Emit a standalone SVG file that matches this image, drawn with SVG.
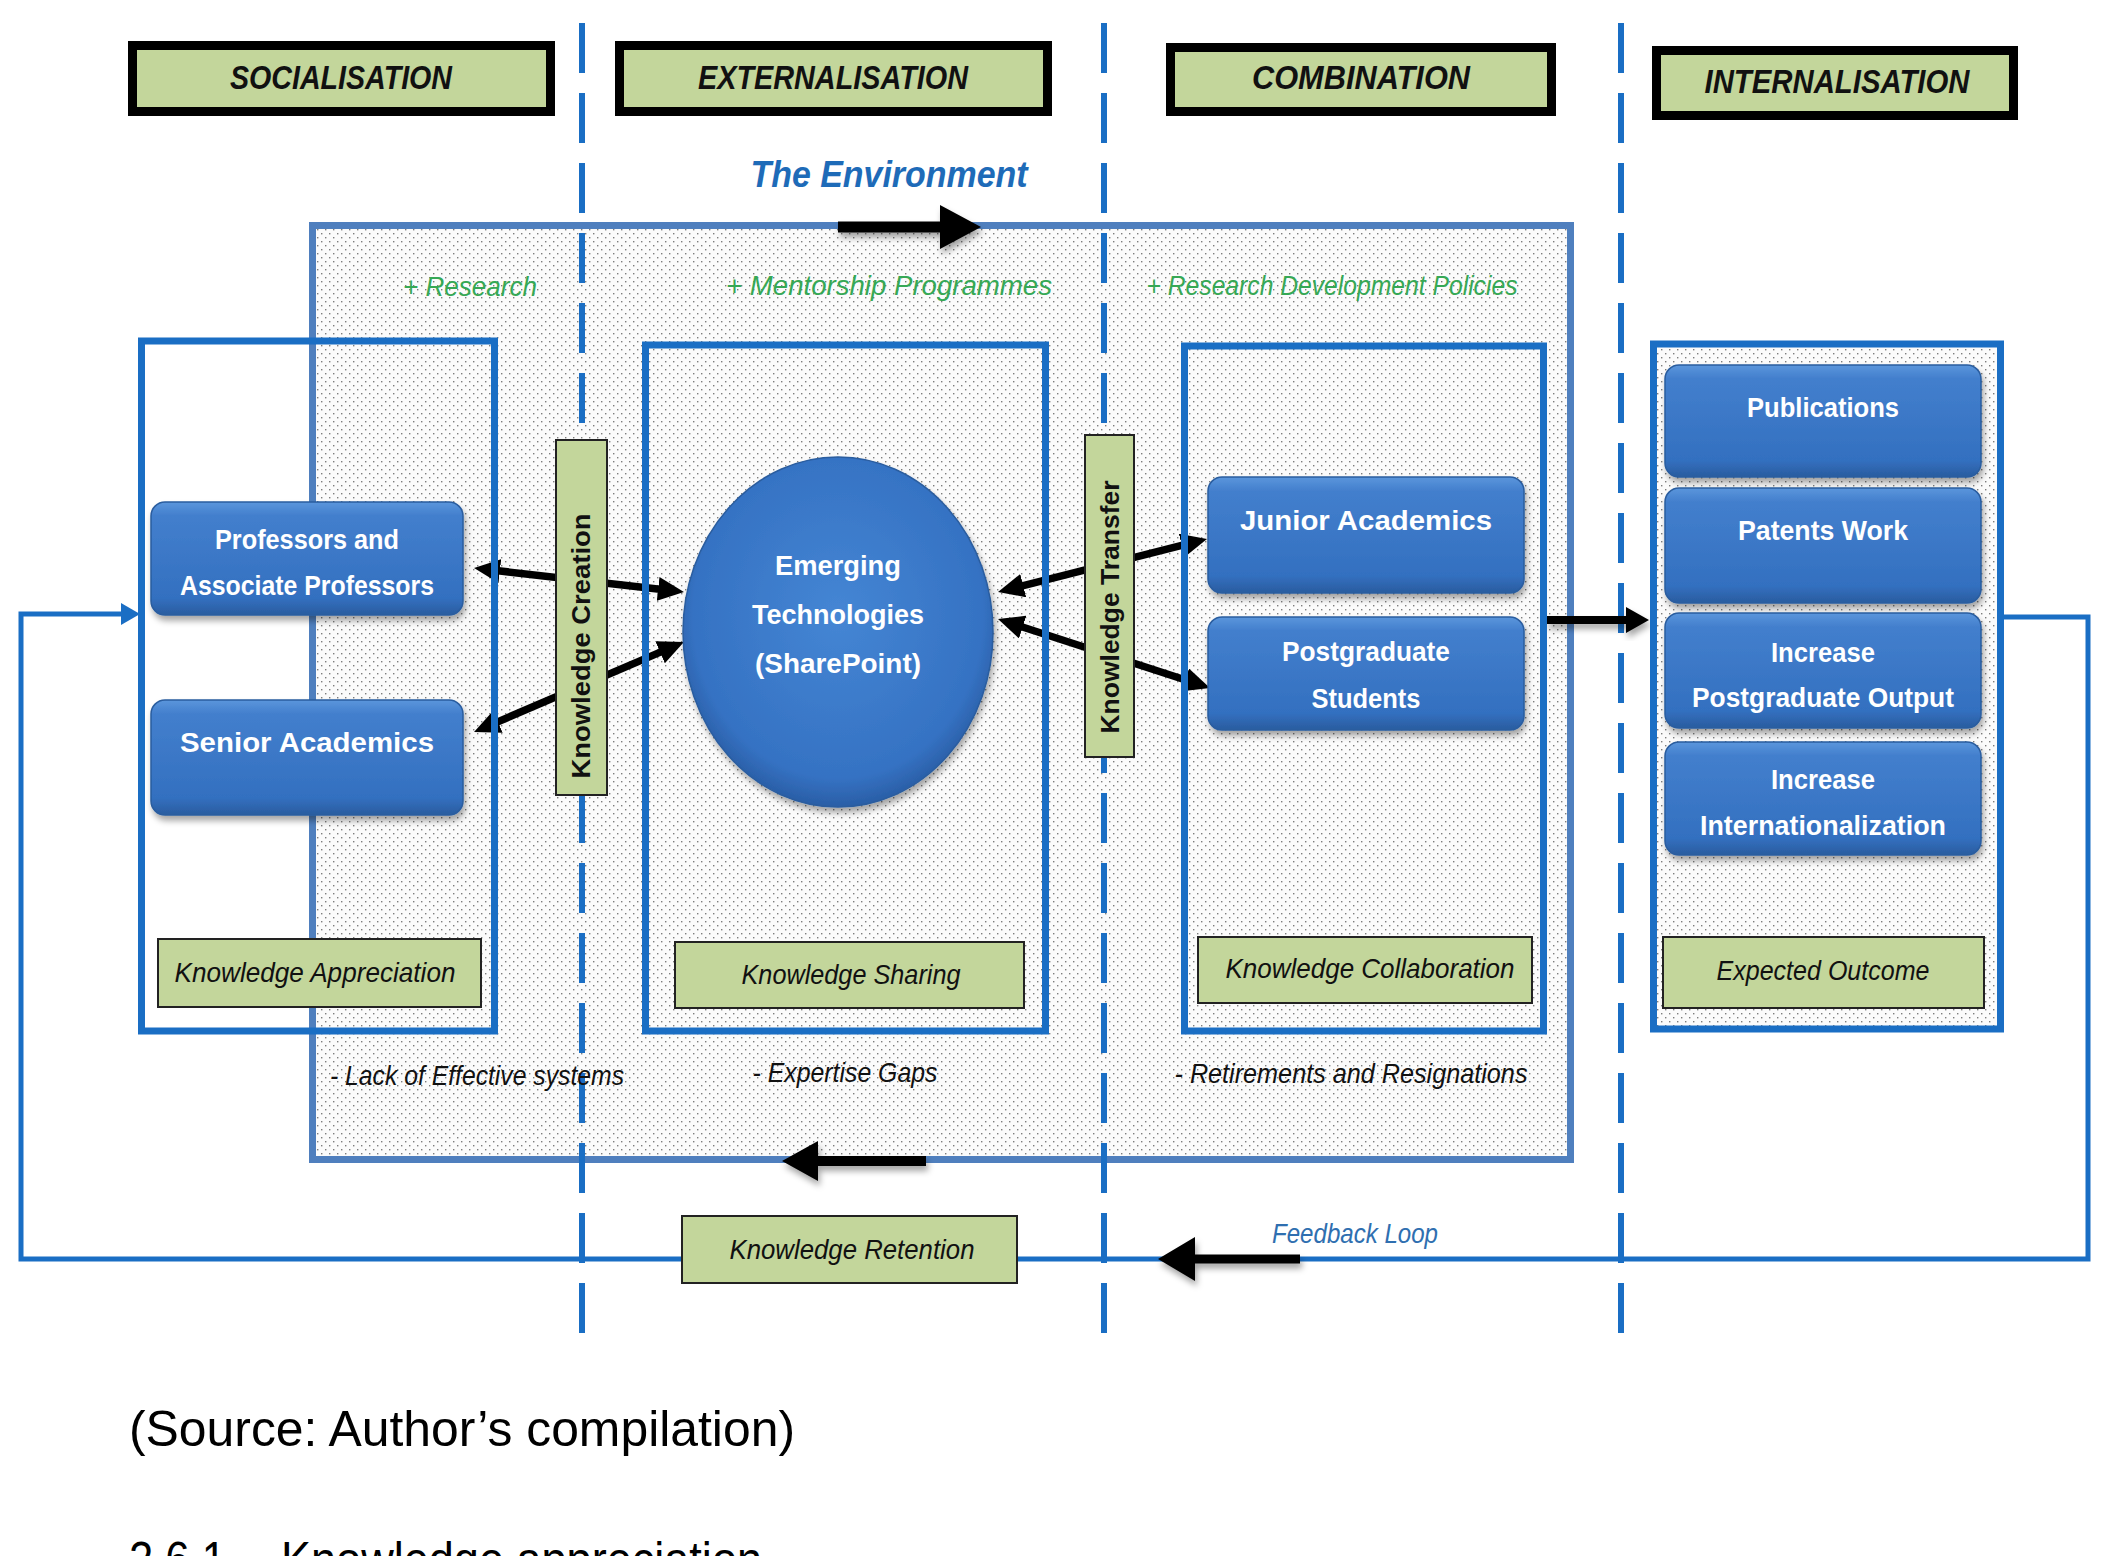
<svg xmlns="http://www.w3.org/2000/svg" width="2104" height="1556" viewBox="0 0 2104 1556">
<style>
.hdr{fill:#c3d69b;stroke:#000;stroke-width:9}
.hdrt{font-family:"Liberation Sans",Arial,sans-serif;font-size:33px;font-weight:bold;font-style:italic;fill:#111;text-anchor:middle}
.box{fill:none;stroke:#1a6ec4;stroke-width:7}
.node{fill:url(#nodeGrad);stroke:#2a5d9f;stroke-width:1.5;filter:url(#shadow)}
.nt{font-family:"Liberation Sans",Arial,sans-serif;font-size:28px;font-weight:bold;fill:#fff;text-anchor:middle}
.lbl{fill:#c3d69b;stroke:#222;stroke-width:2}
.lt{font-family:"Liberation Sans",Arial,sans-serif;font-size:28px;font-style:italic;fill:#111;text-anchor:middle}
.vt{font-family:"Liberation Sans",Arial,sans-serif;font-size:25px;font-weight:bold;fill:#111;text-anchor:middle}
.gt{font-family:"Liberation Sans",Arial,sans-serif;font-size:27px;font-style:italic;fill:#36a855;text-anchor:middle}
.dash{stroke:#1a6ec4;stroke-width:6;stroke-dasharray:50 20;fill:none}
.conn{stroke:#000;stroke-width:7.5;fill:none;marker-start:url(#ah);marker-end:url(#ah)}
.blk{fill:#000;filter:url(#shadow)}
.cap{font-family:"Liberation Sans",Arial,sans-serif;font-size:50px;fill:#000}
</style>
<defs>
<pattern id="dots" width="8" height="8" patternUnits="userSpaceOnUse">
<rect width="8" height="8" fill="#fbfbfb"/>
<rect x="1" y="1" width="1.4" height="1.4" fill="#7d7d7d"/>
<rect x="5" y="5" width="1.4" height="1.4" fill="#7d7d7d"/>
</pattern>
<linearGradient id="nodeGrad" x1="0" y1="0" x2="0" y2="1">
<stop offset="0" stop-color="#5b96dc"/>
<stop offset="0.12" stop-color="#437fcd"/>
<stop offset="0.85" stop-color="#3370c0"/>
<stop offset="1" stop-color="#2a5c9f"/>
</linearGradient>
<radialGradient id="circGrad" cx="0.5" cy="0.45" r="0.55">
<stop offset="0" stop-color="#4586d4"/>
<stop offset="0.85" stop-color="#3572c3"/>
<stop offset="1" stop-color="#2a5ea6"/>
</radialGradient>
<filter id="shadow" x="-10%" y="-10%" width="130%" height="140%">
<feDropShadow dx="2" dy="5" stdDeviation="3" flood-color="#000" flood-opacity="0.35"/>
</filter>
<marker id="ah" markerUnits="userSpaceOnUse" markerWidth="30" markerHeight="24" viewBox="0 0 30 24" refX="6" refY="12" orient="auto-start-reverse">
<path d="M0,0 L26,12 L0,24 z" fill="#000"/>
</marker>
</defs>
<rect width="2104" height="1556" fill="#fff"/>

<g id="environment">
<rect x="312.5" y="225.5" width="1258" height="934" fill="url(#dots)" stroke="#4f7fbe" stroke-width="7"/>
<text x="889" y="187" font-family="Liberation Sans, Arial, sans-serif" font-size="36" font-weight="bold" font-style="italic" fill="#1e6bb8" text-anchor="middle" textLength="277" lengthAdjust="spacingAndGlyphs">The Environment</text>
<text class="gt" x="470" y="296" textLength="134" lengthAdjust="spacingAndGlyphs">+ Research</text>
<text class="gt" x="889" y="295" textLength="326" lengthAdjust="spacingAndGlyphs">+ Mentorship Programmes</text>
<text class="gt" x="1332" y="295" textLength="371" lengthAdjust="spacingAndGlyphs">+ Research Development Policies</text>
</g>

<g id="dividers">
<line class="dash" x1="582" y1="23" x2="582" y2="1336"/>
<line class="dash" x1="1104" y1="23" x2="1104" y2="1336"/>
<line class="dash" x1="1621" y1="23" x2="1621" y2="1336"/>
</g>

<g id="headers">
<g id="hdr-socialisation"><rect class="hdr" x="132.5" y="45.5" width="418" height="66"/><text class="hdrt" x="341" y="89" textLength="222" lengthAdjust="spacingAndGlyphs">SOCIALISATION</text></g>
<g id="hdr-externalisation"><rect class="hdr" x="619.5" y="45.5" width="428" height="66"/><text class="hdrt" x="833" y="89" textLength="270" lengthAdjust="spacingAndGlyphs">EXTERNALISATION</text></g>
<g id="hdr-combination"><rect class="hdr" x="1170.5" y="47.5" width="381" height="64"/><text class="hdrt" x="1361" y="89" textLength="218" lengthAdjust="spacingAndGlyphs">COMBINATION</text></g>
<g id="hdr-internalisation"><rect class="hdr" x="1656.5" y="50.5" width="357" height="65"/><text class="hdrt" x="1837" y="93" textLength="265" lengthAdjust="spacingAndGlyphs">INTERNALISATION</text></g>
</g>

<g id="connectors">
<path d="M2004,617 H2088 V1259 H21 V614 H124" fill="none" stroke="#1a6ec4" stroke-width="5"/>
<polygon points="121,603 140,614 121,625" fill="#1a6ec4"/>
<path class="blk" d="M838,221.5 H940 V205 L981,227 L940,249 V232.5 H838 Z"/>
<path class="blk" d="M926,1156 H818 V1141 L782,1161 L818,1181 V1166 H926 Z"/>
<path class="blk" d="M1300,1254.5 H1195 V1237 L1158,1259 L1195,1281 V1263.5 H1300 Z"/>
<path class="blk" d="M1547,616 H1626 V607 L1649,620 L1626,633 V624 H1547 Z"/>
<line class="conn" x1="493.9" y1="570.3" x2="664.1" y2="589.7"/>
<line class="conn" x1="492.4" y1="724.1" x2="665.6" y2="649.9"/>
<line class="conn" x1="1017.4" y1="587.1" x2="1187.6" y2="543.9"/>
<line class="conn" x1="1017" y1="625.2" x2="1191" y2="681.8"/>
</g>

<g id="socialisation">
<rect class="box" x="141.5" y="341" width="353" height="690"/>
<g id="professors"><rect class="node" x="151" y="502" width="312" height="113" rx="14"/><text class="nt" x="307" y="549" textLength="184" lengthAdjust="spacingAndGlyphs">Professors and</text><text class="nt" x="307" y="595" textLength="254" lengthAdjust="spacingAndGlyphs">Associate Professors</text></g>
<g id="senior"><rect class="node" x="151" y="700" width="312" height="115" rx="14"/><text class="nt" x="307" y="752" font-size="31" textLength="254" lengthAdjust="spacingAndGlyphs">Senior Academics</text></g>
<g id="knowledge-appreciation"><rect class="lbl" x="158" y="939" width="323" height="68"/><text class="lt" x="315" y="982" textLength="281" lengthAdjust="spacingAndGlyphs">Knowledge Appreciation</text></g>
</g>

<g id="knowledge-creation"><rect class="lbl" x="556" y="440" width="51" height="355"/><text class="vt" transform="translate(581,646) rotate(-90)" x="0" y="9" textLength="265" lengthAdjust="spacingAndGlyphs">Knowledge Creation</text></g>

<g id="externalisation">
<rect class="box" x="645.5" y="345" width="400" height="686"/>
<g id="emerging"><ellipse cx="838" cy="632" rx="155" ry="175" fill="url(#circGrad)" stroke="#2a5d9f" stroke-width="1.5" filter="url(#shadow)"/><text class="nt" x="838" y="575" textLength="126" lengthAdjust="spacingAndGlyphs">Emerging</text><text class="nt" x="838" y="624" textLength="172" lengthAdjust="spacingAndGlyphs">Technologies</text><text class="nt" x="838" y="673" textLength="166" lengthAdjust="spacingAndGlyphs">(SharePoint)</text></g>
<g id="knowledge-sharing"><rect class="lbl" x="675" y="942" width="349" height="66"/><text class="lt" x="851" y="984" font-style="normal" textLength="219" lengthAdjust="spacingAndGlyphs">Knowledge Sharing</text></g>
</g>

<g id="knowledge-transfer"><rect class="lbl" x="1085" y="435" width="49" height="322"/><text class="vt" transform="translate(1110,607) rotate(-90)" x="0" y="9" textLength="253" lengthAdjust="spacingAndGlyphs">Knowledge Transfer</text></g>

<g id="combination">
<rect class="box" x="1184.5" y="346" width="359" height="685"/>
<g id="junior"><rect class="node" x="1208" y="477" width="316" height="116" rx="14"/><text class="nt" x="1366" y="530" font-size="31" textLength="252" lengthAdjust="spacingAndGlyphs">Junior Academics</text></g>
<g id="postgraduate"><rect class="node" x="1208" y="617" width="316" height="113" rx="14"/><text class="nt" x="1366" y="661" textLength="168" lengthAdjust="spacingAndGlyphs">Postgraduate</text><text class="nt" x="1366" y="708" textLength="109" lengthAdjust="spacingAndGlyphs">Students</text></g>
<g id="knowledge-collaboration"><rect class="lbl" x="1198" y="937" width="334" height="66"/><text class="lt" x="1370" y="978" textLength="289" lengthAdjust="spacingAndGlyphs">Knowledge Collaboration</text></g>
</g>

<g id="internalisation">
<rect x="1653.5" y="344" width="347" height="685" fill="url(#dots)" stroke="#1a6ec4" stroke-width="7"/>
<g id="publications"><rect class="node" x="1665" y="365" width="316" height="112" rx="14"/><text class="nt" x="1823" y="417" textLength="152" lengthAdjust="spacingAndGlyphs">Publications</text></g>
<g id="patents"><rect class="node" x="1665" y="488" width="316" height="115" rx="14"/><text class="nt" x="1823" y="540" textLength="170" lengthAdjust="spacingAndGlyphs">Patents Work</text></g>
<g id="pg-output"><rect class="node" x="1665" y="613" width="316" height="115" rx="14"/><text class="nt" x="1823" y="662" textLength="104" lengthAdjust="spacingAndGlyphs">Increase</text><text class="nt" x="1823" y="707" textLength="262" lengthAdjust="spacingAndGlyphs">Postgraduate Output</text></g>
<g id="internationalization"><rect class="node" x="1665" y="742" width="316" height="113" rx="14"/><text class="nt" x="1823" y="789" textLength="104" lengthAdjust="spacingAndGlyphs">Increase</text><text class="nt" x="1823" y="835" textLength="246" lengthAdjust="spacingAndGlyphs">Internationalization</text></g>
<g id="expected-outcome"><rect class="lbl" x="1663" y="937" width="321" height="71"/><text class="lt" x="1823" y="980" textLength="213" lengthAdjust="spacingAndGlyphs">Expected Outcome</text></g>
</g>

<g id="barriers">
<text class="lt" x="477" y="1085" textLength="294" lengthAdjust="spacingAndGlyphs">- Lack of Effective systems</text>
<text class="lt" x="845" y="1082" textLength="185" lengthAdjust="spacingAndGlyphs">- Expertise Gaps</text>
<text class="lt" x="1351" y="1083" textLength="353" lengthAdjust="spacingAndGlyphs">- Retirements and Resignations</text>
</g>

<g id="knowledge-retention"><rect class="lbl" x="682" y="1216" width="335" height="67"/><text class="lt" x="852" y="1259" textLength="245" lengthAdjust="spacingAndGlyphs">Knowledge Retention</text></g>
<text x="1355" y="1243" font-family="Liberation Sans, Arial, sans-serif" font-size="28" font-style="italic" fill="#2f6fb0" text-anchor="middle" textLength="166" lengthAdjust="spacingAndGlyphs">Feedback Loop</text>

<g id="caption">
<text class="cap" x="129" y="1446" textLength="666" lengthAdjust="spacingAndGlyphs">(Source: Author’s compilation)</text>
<text class="cap" x="129" y="1577" textLength="97" lengthAdjust="spacingAndGlyphs">2.6.1</text>
<text class="cap" x="281" y="1577" textLength="481" lengthAdjust="spacingAndGlyphs">Knowledge appreciation</text>
</g>
</svg>
